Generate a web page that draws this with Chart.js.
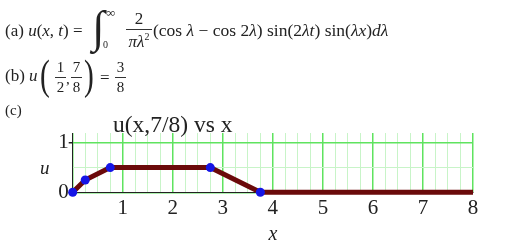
<!DOCTYPE html>
<html>
<head>
<meta charset="utf-8">
<script src="https://cdn.jsdelivr.net/npm/chart.js@4"></script>
<style>
body { margin: 0; background: #fff; }
#wrap { position: relative; width: 509px; height: 245px; overflow: hidden; font-family: "Liberation Serif", serif; color: #222; }
canvas { position: absolute; left: 0; top: 0; }
.t { position: absolute; white-space: nowrap; line-height: 1; }
.frac { position: absolute; text-align: center; line-height: 1; }
.frac .num { display: block; padding-bottom: 2px; }
.frac .den { display: block; border-top: 1px solid #333; padding-top: 2px; }
</style>
</head>
<body>
<div id="wrap">
  <canvas id="chart" width="509" height="245"></canvas>

  <!-- (a) -->
  <div class="t" style="left:5px;top:22px;font-size:17px">(a) <i>u</i>(<i>x</i>, <i>t</i>) =</div>
  <div class="t" style="left:92px;top:5px;font-size:45px">∫</div>
  <div class="t" style="left:106px;top:6px;font-size:13px">∞</div>
  <div class="t" style="left:103px;top:40px;font-size:10px">0</div>
  <div class="frac" style="left:126px;top:10px;font-size:17px;width:26px"><span class="num">2</span><span class="den"><i>πλ</i><sup style="font-size:10px">2</sup></span></div>
  <div class="t" style="left:153px;top:22px;font-size:17.5px">(cos <i>λ</i> − cos 2<i>λ</i>) sin(2<i>λt</i>) sin(<i>λx</i>)<i>dλ</i></div>

  <!-- (b) -->
  <div class="t" style="left:5px;top:67px;font-size:17px">(b) <i>u</i></div>
  <div class="t" style="left:40px;top:54px;font-size:42px;transform:scaleX(0.7);transform-origin:left">(</div>
  <div class="frac" style="left:55px;top:60px;font-size:15px;width:11px"><span class="num">1</span><span class="den">2</span></div>
  <div class="t" style="left:66px;top:72px;font-size:15px">,</div>
  <div class="frac" style="left:71px;top:60px;font-size:15px;width:11px"><span class="num">7</span><span class="den">8</span></div>
  <div class="t" style="left:84px;top:54px;font-size:42px;transform:scaleX(0.7);transform-origin:left">)</div>
  <div class="t" style="left:100px;top:69px;font-size:17px">=</div>
  <div class="frac" style="left:115px;top:60px;font-size:15px;width:11px"><span class="num">3</span><span class="den">8</span></div>

  <!-- (c) -->
  <div class="t" style="left:5px;top:103px;font-size:15px">(c)</div>
  <div class="t" style="left:113px;top:113px;font-size:23.5px">u(x,7/8) vs x</div>
  <div class="t" style="left:40px;top:158px;font-size:19px"><i>u</i></div>
</div>

<script>
// values
const xValues = [0, 0.25, 0.75, 2.75, 3.75, 8];
const uValues = [0, 0.25, 0.5, 0.5, 0, 0];
const markerSizes = [4.5, 4.5, 4.5, 4.5, 4.5, 0];
const xTickLabels = [1, 2, 3, 4, 5, 6, 7, 8];
const yTickLabels = [0, 1];

const majorGreen = '#5fe35f';
const minorGreen = '#c8f4c8';

const points = xValues.map((x, i) => ({ x: x, y: uValues[i] }));

new Chart(document.getElementById('chart'), {
    type: 'line',
    data: {
        datasets: [{
            data: points,
            borderColor: '#6b0a0a',
            borderWidth: 5,
            pointRadius: markerSizes,
            pointBackgroundColor: '#1515e6',
            pointBorderColor: '#1515e6',
            pointBorderWidth: 0,
            tension: 0,
            clip: false
        }]
    },
    options: {
        responsive: false,
        animation: false,
        layout: { padding: { left: 0, right: 36, top: 133, bottom: 0 } },
        plugins: { legend: { display: false }, title: { display: false }, tooltip: { enabled: false } },
        scales: {
            x: {
                type: 'linear',
                min: 0,
                max: 8,
                afterFit: function (scale) { scale.height = 52.7; },
                afterBuildTicks: function (scale) {
                    const t = [];
                    for (let v = 0; v <= 8; v += 0.25) t.push({ value: v });
                    scale.ticks = t;
                },
                ticks: {
                    autoSkip: false,
                    maxRotation: 0,
                    padding: 4,
                    color: '#222',
                    font: { family: 'Liberation Serif', size: 21 },
                    callback: function (v) { return xTickLabels.includes(v) ? String(v) : ''; }
                },
                grid: {
                    drawTicks: false,
                    tickLength: 0,
                    lineWidth: function (ctx) { return Number.isInteger(ctx.tick.value) ? 1.5 : 1; },
                    color: function (ctx) { return Number.isInteger(ctx.tick.value) ? majorGreen : minorGreen; }
                },
                border: { color: '#222', width: 1 },
                title: {
                    display: true,
                    text: 'x',
                    color: '#222',
                    padding: 0,
                    font: { family: 'Liberation Serif', size: 20, style: 'italic', lineHeight: 1 }
                }
            },
            y: {
                type: 'linear',
                min: 0,
                max: 1.2,
                afterFit: function (scale) { scale.width = 72.7; },
                afterBuildTicks: function (scale) {
                    const t = [];
                    for (let v = 0; v <= 1; v += 0.25) t.push({ value: v });
                    scale.ticks = t;
                },
                ticks: {
                    padding: 0,
                    color: '#222',
                    font: { family: 'Liberation Serif', size: 21 },
                    callback: function (v) { return yTickLabels.includes(v) ? String(v) : ''; }
                },
                grid: {
                    tickLength: 4,
                    tickColor: function (ctx) { return Number.isInteger(ctx.tick.value) ? '#222' : 'rgba(0,0,0,0)'; },
                    lineWidth: function (ctx) { return Number.isInteger(ctx.tick.value) ? 1.5 : 1; },
                    color: function (ctx) { return Number.isInteger(ctx.tick.value) ? majorGreen : minorGreen; }
                },
                border: { color: '#222', width: 1 }
            }
        }
    }
});
</script>
</body>
</html>
